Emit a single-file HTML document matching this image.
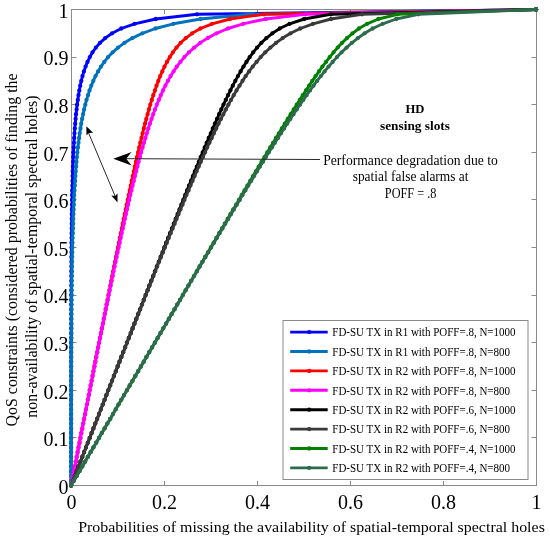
<!DOCTYPE html>
<html><head><meta charset="utf-8"><style>
html,body{margin:0;padding:0;background:#fff;}
svg{display:block;}
text{font-family:"Liberation Serif",serif;fill:#000;}
.tl{font-size:20px;}
.lg{font-size:12px;fill:#000;}
.an{font-size:14px;}
.hd{font-size:12.8px;font-weight:bold;}
.al{font-size:15.8px;}
.xl{font-size:14.8px;}
</style></head><body>
<svg width="550" height="542" viewBox="0 0 550 542">
<rect width="550" height="542" fill="#fff"/>
<rect x="71.5" y="9.5" width="465" height="476" fill="none" stroke="#8a8a8a" stroke-width="1"/>
<path d="M71.5 485V481M71.5 10V14M164.5 485V481M164.5 10V14M257.5 485V481M257.5 10V14M350.5 485V481M350.5 10V14M443.5 485V481M443.5 10V14M536.5 485V481M536.5 10V14M72 485.5H76.5M536 485.5H531.5M72 437.5H76.5M536 437.5H531.5M72 390.5H76.5M536 390.5H531.5M72 342.5H76.5M536 342.5H531.5M72 295.5H76.5M536 295.5H531.5M72 247.5H76.5M536 247.5H531.5M72 199.5H76.5M536 199.5H531.5M72 152.5H76.5M536 152.5H531.5M72 104.5H76.5M536 104.5H531.5M72 57.5H76.5M536 57.5H531.5M72 9.5H76.5M536 9.5H531.5" stroke="#8a8a8a" stroke-width="1" fill="none"/>
<polyline points="71.1,485.5 71.1,480.7 71.1,476 71.1,471.2 71.1,466.5 71.1,461.7 71.1,456.9 71.1,452.2 71.1,447.4 71.1,442.7 71.1,437.9 71.1,433.1 71.1,428.4 71.1,423.6 71.1,418.9 71.1,414.1 71.1,409.3 71.1,404.6 71.1,399.8 71.1,395.1 71.1,390.3 71.1,385.5 71.1,380.8 71.1,376 71.1,371.3 71.1,366.5 71.1,361.7 71.1,357 71.1,352.2 71.1,347.5 71.1,342.7 71.2,337.9 71.2,333.2 71.2,328.4 71.2,323.7 71.2,318.9 71.2,314.1 71.2,309.4 71.2,304.6 71.2,299.9 71.2,295.1 71.3,290.3 71.3,285.6 71.3,280.8 71.3,276.1 71.3,271.3 71.4,266.5 71.4,261.8 71.4,257 71.5,252.3 71.5,247.5 71.5,242.7 71.6,238 71.6,233.2 71.7,228.5 71.7,223.7 71.8,218.9 71.8,214.2 71.9,209.4 72,204.7 72.1,199.9 72.1,195.1 72.2,190.4 72.4,185.6 72.5,180.9 72.6,176.1 72.7,171.3 72.9,166.6 73.1,161.8 73.2,157.1 73.4,152.3 73.7,147.5 73.9,142.8 74.2,138 74.5,133.3 74.8,128.5 75.2,123.7 75.6,119 76,114.2 76.6,109.5 77.1,104.7 77.8,99.9 78.5,95.2 79.3,90.4 80.2,85.7 81.3,80.9 82.5,76.1 83.9,71.4 85.6,66.6 87.5,61.9 89.8,57.1 92.5,52.3 95.9,47.6 100,42.8 105.2,38.1 112.1,33.3 121.3,28.5 134.6,23.8 155.8,19 197,14.3 536.1,9.5" fill="none" stroke="#0000ff" stroke-width="2.9" stroke-linejoin="round"/>
<path d="M71.1 485.5h0M71.1 480.7h0M71.1 476h0M71.1 471.2h0M71.1 466.5h0M71.1 461.7h0M71.1 456.9h0M71.1 452.2h0M71.1 447.4h0M71.1 442.7h0M71.1 437.9h0M71.1 433.1h0M71.1 428.4h0M71.1 423.6h0M71.1 418.9h0M71.1 414.1h0M71.1 409.3h0M71.1 404.6h0M71.1 399.8h0M71.1 395.1h0M71.1 390.3h0M71.1 385.5h0M71.1 380.8h0M71.1 376h0M71.1 371.3h0M71.1 366.5h0M71.1 361.7h0M71.1 357h0M71.1 352.2h0M71.1 347.5h0M71.1 342.7h0M71.2 337.9h0M71.2 333.2h0M71.2 328.4h0M71.2 323.7h0M71.2 318.9h0M71.2 314.1h0M71.2 309.4h0M71.2 304.6h0M71.2 299.9h0M71.2 295.1h0M71.3 290.3h0M71.3 285.6h0M71.3 280.8h0M71.3 276.1h0M71.3 271.3h0M71.4 266.5h0M71.4 261.8h0M71.4 257h0M71.5 252.3h0M71.5 247.5h0M71.5 242.7h0M71.6 238h0M71.6 233.2h0M71.7 228.5h0M71.7 223.7h0M71.8 218.9h0M71.8 214.2h0M71.9 209.4h0M72 204.7h0M72.1 199.9h0M72.1 195.1h0M72.2 190.4h0M72.4 185.6h0M72.5 180.9h0M72.6 176.1h0M72.7 171.3h0M72.9 166.6h0M73.1 161.8h0M73.2 157.1h0M73.4 152.3h0M73.7 147.5h0M73.9 142.8h0M74.2 138h0M74.5 133.3h0M74.8 128.5h0M75.2 123.7h0M75.6 119h0M76 114.2h0M76.6 109.5h0M77.1 104.7h0M77.8 99.9h0M78.5 95.2h0M79.3 90.4h0M80.2 85.7h0M81.3 80.9h0M82.5 76.1h0M83.9 71.4h0M85.6 66.6h0M87.5 61.9h0M89.8 57.1h0M92.5 52.3h0M95.9 47.6h0M100 42.8h0M105.2 38.1h0M112.1 33.3h0M121.3 28.5h0M134.6 23.8h0M155.8 19h0M197 14.3h0M536.1 9.5h0" stroke="#0000ff" stroke-width="4.3" stroke-linecap="round"/>
<polyline points="71.1,485.5 71.1,480.7 71.1,476 71.1,471.2 71.1,466.5 71.1,461.7 71.1,456.9 71.1,452.2 71.1,447.4 71.1,442.7 71.1,437.9 71.1,433.1 71.1,428.4 71.1,423.6 71.1,418.9 71.1,414.1 71.1,409.3 71.1,404.6 71.1,399.8 71.2,395.1 71.2,390.3 71.2,385.5 71.2,380.8 71.2,376 71.2,371.3 71.2,366.5 71.2,361.7 71.2,357 71.3,352.2 71.3,347.5 71.3,342.7 71.3,337.9 71.4,333.2 71.4,328.4 71.4,323.7 71.4,318.9 71.5,314.1 71.5,309.4 71.6,304.6 71.6,299.9 71.7,295.1 71.7,290.3 71.8,285.6 71.8,280.8 71.9,276.1 72,271.3 72,266.5 72.1,261.8 72.2,257 72.3,252.3 72.4,247.5 72.5,242.7 72.6,238 72.8,233.2 72.9,228.5 73.1,223.7 73.2,218.9 73.4,214.2 73.6,209.4 73.8,204.7 74,199.9 74.2,195.1 74.5,190.4 74.8,185.6 75.1,180.9 75.4,176.1 75.7,171.3 76.1,166.6 76.5,161.8 76.9,157.1 77.4,152.3 77.9,147.5 78.5,142.8 79.1,138 79.7,133.3 80.5,128.5 81.2,123.7 82.1,119 83.1,114.2 84.1,109.5 85.3,104.7 86.5,99.9 88,95.2 89.5,90.4 91.3,85.7 93.3,80.9 95.5,76.1 98.1,71.4 101,66.6 104.3,61.9 108.1,57.1 112.7,52.3 118,47.6 124.5,42.8 132.4,38.1 142.4,33.3 155.5,28.5 173.5,23.8 200.5,19 249,14.3 536.1,9.5" fill="none" stroke="#0072bd" stroke-width="2.9" stroke-linejoin="round"/>
<path d="M71.1 485.5h0M71.1 480.7h0M71.1 476h0M71.1 471.2h0M71.1 466.5h0M71.1 461.7h0M71.1 456.9h0M71.1 452.2h0M71.1 447.4h0M71.1 442.7h0M71.1 437.9h0M71.1 433.1h0M71.1 428.4h0M71.1 423.6h0M71.1 418.9h0M71.1 414.1h0M71.1 409.3h0M71.1 404.6h0M71.1 399.8h0M71.2 395.1h0M71.2 390.3h0M71.2 385.5h0M71.2 380.8h0M71.2 376h0M71.2 371.3h0M71.2 366.5h0M71.2 361.7h0M71.2 357h0M71.3 352.2h0M71.3 347.5h0M71.3 342.7h0M71.3 337.9h0M71.4 333.2h0M71.4 328.4h0M71.4 323.7h0M71.4 318.9h0M71.5 314.1h0M71.5 309.4h0M71.6 304.6h0M71.6 299.9h0M71.7 295.1h0M71.7 290.3h0M71.8 285.6h0M71.8 280.8h0M71.9 276.1h0M72 271.3h0M72 266.5h0M72.1 261.8h0M72.2 257h0M72.3 252.3h0M72.4 247.5h0M72.5 242.7h0M72.6 238h0M72.8 233.2h0M72.9 228.5h0M73.1 223.7h0M73.2 218.9h0M73.4 214.2h0M73.6 209.4h0M73.8 204.7h0M74 199.9h0M74.2 195.1h0M74.5 190.4h0M74.8 185.6h0M75.1 180.9h0M75.4 176.1h0M75.7 171.3h0M76.1 166.6h0M76.5 161.8h0M76.9 157.1h0M77.4 152.3h0M77.9 147.5h0M78.5 142.8h0M79.1 138h0M79.7 133.3h0M80.5 128.5h0M81.2 123.7h0M82.1 119h0M83.1 114.2h0M84.1 109.5h0M85.3 104.7h0M86.5 99.9h0M88 95.2h0M89.5 90.4h0M91.3 85.7h0M93.3 80.9h0M95.5 76.1h0M98.1 71.4h0M101 66.6h0M104.3 61.9h0M108.1 57.1h0M112.7 52.3h0M118 47.6h0M124.5 42.8h0M132.4 38.1h0M142.4 33.3h0M155.5 28.5h0M173.5 23.8h0M200.5 19h0M249 14.3h0M536.1 9.5h0" stroke="#0072bd" stroke-width="4.3" stroke-linecap="round"/>
<polyline points="71.1,485.5 72,480.7 73,476 73.9,471.2 74.8,466.5 75.8,461.7 76.7,456.9 77.6,452.2 78.5,447.4 79.5,442.7 80.4,437.9 81.3,433.1 82.3,428.4 83.2,423.6 84.1,418.9 85.1,414.1 86,409.3 86.9,404.6 87.8,399.8 88.8,395.1 89.7,390.3 90.6,385.5 91.6,380.8 92.5,376 93.4,371.3 94.4,366.5 95.3,361.7 96.2,357 97.2,352.2 98.1,347.5 99,342.7 100,337.9 100.9,333.2 101.8,328.4 102.8,323.7 103.7,318.9 104.7,314.1 105.6,309.4 106.5,304.6 107.5,299.9 108.4,295.1 109.4,290.3 110.3,285.6 111.2,280.8 112.2,276.1 113.1,271.3 114.1,266.5 115,261.8 116,257 117,252.3 117.9,247.5 118.9,242.7 119.8,238 120.8,233.2 121.8,228.5 122.7,223.7 123.7,218.9 124.7,214.2 125.7,209.4 126.7,204.7 127.7,199.9 128.7,195.1 129.7,190.4 130.7,185.6 131.7,180.9 132.7,176.1 133.8,171.3 134.8,166.6 135.9,161.8 137,157.1 138.1,152.3 139.2,147.5 140.3,142.8 141.5,138 142.6,133.3 143.8,128.5 145,123.7 146.3,119 147.6,114.2 148.9,109.5 150.3,104.7 151.8,99.9 153.3,95.2 154.9,90.4 156.5,85.7 158.3,80.9 160.2,76.1 162.3,71.4 164.5,66.6 167,61.9 169.8,57.1 172.9,52.3 176.5,47.6 180.7,42.8 185.8,38.1 192.2,33.3 200.5,28.5 212.1,23.8 230,19 263.9,14.3 536.1,9.5" fill="none" stroke="#ff0000" stroke-width="2.9" stroke-linejoin="round"/>
<path d="M71.1 485.5h0M72 480.7h0M73 476h0M73.9 471.2h0M74.8 466.5h0M75.8 461.7h0M76.7 456.9h0M77.6 452.2h0M78.5 447.4h0M79.5 442.7h0M80.4 437.9h0M81.3 433.1h0M82.3 428.4h0M83.2 423.6h0M84.1 418.9h0M85.1 414.1h0M86 409.3h0M86.9 404.6h0M87.8 399.8h0M88.8 395.1h0M89.7 390.3h0M90.6 385.5h0M91.6 380.8h0M92.5 376h0M93.4 371.3h0M94.4 366.5h0M95.3 361.7h0M96.2 357h0M97.2 352.2h0M98.1 347.5h0M99 342.7h0M100 337.9h0M100.9 333.2h0M101.8 328.4h0M102.8 323.7h0M103.7 318.9h0M104.7 314.1h0M105.6 309.4h0M106.5 304.6h0M107.5 299.9h0M108.4 295.1h0M109.4 290.3h0M110.3 285.6h0M111.2 280.8h0M112.2 276.1h0M113.1 271.3h0M114.1 266.5h0M115 261.8h0M116 257h0M117 252.3h0M117.9 247.5h0M118.9 242.7h0M119.8 238h0M120.8 233.2h0M121.8 228.5h0M122.7 223.7h0M123.7 218.9h0M124.7 214.2h0M125.7 209.4h0M126.7 204.7h0M127.7 199.9h0M128.7 195.1h0M129.7 190.4h0M130.7 185.6h0M131.7 180.9h0M132.7 176.1h0M133.8 171.3h0M134.8 166.6h0M135.9 161.8h0M137 157.1h0M138.1 152.3h0M139.2 147.5h0M140.3 142.8h0M141.5 138h0M142.6 133.3h0M143.8 128.5h0M145 123.7h0M146.3 119h0M147.6 114.2h0M148.9 109.5h0M150.3 104.7h0M151.8 99.9h0M153.3 95.2h0M154.9 90.4h0M156.5 85.7h0M158.3 80.9h0M160.2 76.1h0M162.3 71.4h0M164.5 66.6h0M167 61.9h0M169.8 57.1h0M172.9 52.3h0M176.5 47.6h0M180.7 42.8h0M185.8 38.1h0M192.2 33.3h0M200.5 28.5h0M212.1 23.8h0M230 19h0M263.9 14.3h0M536.1 9.5h0" stroke="#ff0000" stroke-width="4.3" stroke-linecap="round"/>
<polyline points="71.1,485.5 72,480.7 73,476 73.9,471.2 74.8,466.5 75.8,461.7 76.7,456.9 77.6,452.2 78.5,447.4 79.5,442.7 80.4,437.9 81.3,433.1 82.3,428.4 83.2,423.6 84.1,418.9 85.1,414.1 86,409.3 86.9,404.6 87.9,399.8 88.8,395.1 89.7,390.3 90.7,385.5 91.6,380.8 92.6,376 93.5,371.3 94.4,366.5 95.4,361.7 96.3,357 97.3,352.2 98.2,347.5 99.2,342.7 100.1,337.9 101.1,333.2 102,328.4 103,323.7 103.9,318.9 104.9,314.1 105.8,309.4 106.8,304.6 107.8,299.9 108.7,295.1 109.7,290.3 110.7,285.6 111.7,280.8 112.7,276.1 113.6,271.3 114.6,266.5 115.6,261.8 116.6,257 117.6,252.3 118.7,247.5 119.7,242.7 120.7,238 121.7,233.2 122.8,228.5 123.8,223.7 124.9,218.9 125.9,214.2 127,209.4 128.1,204.7 129.2,199.9 130.3,195.1 131.5,190.4 132.6,185.6 133.8,180.9 135,176.1 136.2,171.3 137.4,166.6 138.6,161.8 139.9,157.1 141.2,152.3 142.6,147.5 143.9,142.8 145.4,138 146.8,133.3 148.3,128.5 149.9,123.7 151.5,119 153.2,114.2 155,109.5 156.8,104.7 158.8,99.9 160.8,95.2 163,90.4 165.4,85.7 167.9,80.9 170.6,76.1 173.6,71.4 176.8,66.6 180.4,61.9 184.4,57.1 189,52.3 194.2,47.6 200.3,42.8 207.6,38.1 216.5,33.3 227.9,28.5 243.2,23.8 265.8,19 305.5,14.3 536.1,9.5" fill="none" stroke="#ff00ff" stroke-width="2.9" stroke-linejoin="round"/>
<path d="M71.1 485.5h0M72 480.7h0M73 476h0M73.9 471.2h0M74.8 466.5h0M75.8 461.7h0M76.7 456.9h0M77.6 452.2h0M78.5 447.4h0M79.5 442.7h0M80.4 437.9h0M81.3 433.1h0M82.3 428.4h0M83.2 423.6h0M84.1 418.9h0M85.1 414.1h0M86 409.3h0M86.9 404.6h0M87.9 399.8h0M88.8 395.1h0M89.7 390.3h0M90.7 385.5h0M91.6 380.8h0M92.6 376h0M93.5 371.3h0M94.4 366.5h0M95.4 361.7h0M96.3 357h0M97.3 352.2h0M98.2 347.5h0M99.2 342.7h0M100.1 337.9h0M101.1 333.2h0M102 328.4h0M103 323.7h0M103.9 318.9h0M104.9 314.1h0M105.8 309.4h0M106.8 304.6h0M107.8 299.9h0M108.7 295.1h0M109.7 290.3h0M110.7 285.6h0M111.7 280.8h0M112.7 276.1h0M113.6 271.3h0M114.6 266.5h0M115.6 261.8h0M116.6 257h0M117.6 252.3h0M118.7 247.5h0M119.7 242.7h0M120.7 238h0M121.7 233.2h0M122.8 228.5h0M123.8 223.7h0M124.9 218.9h0M125.9 214.2h0M127 209.4h0M128.1 204.7h0M129.2 199.9h0M130.3 195.1h0M131.5 190.4h0M132.6 185.6h0M133.8 180.9h0M135 176.1h0M136.2 171.3h0M137.4 166.6h0M138.6 161.8h0M139.9 157.1h0M141.2 152.3h0M142.6 147.5h0M143.9 142.8h0M145.4 138h0M146.8 133.3h0M148.3 128.5h0M149.9 123.7h0M151.5 119h0M153.2 114.2h0M155 109.5h0M156.8 104.7h0M158.8 99.9h0M160.8 95.2h0M163 90.4h0M165.4 85.7h0M167.9 80.9h0M170.6 76.1h0M173.6 71.4h0M176.8 66.6h0M180.4 61.9h0M184.4 57.1h0M189 52.3h0M194.2 47.6h0M200.3 42.8h0M207.6 38.1h0M216.5 33.3h0M227.9 28.5h0M243.2 23.8h0M265.8 19h0M305.5 14.3h0M536.1 9.5h0" stroke="#ff00ff" stroke-width="4.3" stroke-linecap="round"/>
<polyline points="71.1,485.5 73,480.7 74.8,476 76.7,471.2 78.5,466.5 80.4,461.7 82.3,456.9 84.1,452.2 86,447.4 87.8,442.7 89.7,437.9 91.6,433.1 93.4,428.4 95.3,423.6 97.1,418.9 99,414.1 100.9,409.3 102.7,404.6 104.6,399.8 106.4,395.1 108.3,390.3 110.2,385.5 112,380.8 113.9,376 115.8,371.3 117.6,366.5 119.5,361.7 121.3,357 123.2,352.2 125.1,347.5 126.9,342.7 128.8,337.9 130.7,333.2 132.5,328.4 134.4,323.7 136.3,318.9 138.1,314.1 140,309.4 141.9,304.6 143.7,299.9 145.6,295.1 147.5,290.3 149.3,285.6 151.2,280.8 153.1,276.1 154.9,271.3 156.8,266.5 158.7,261.8 160.6,257 162.5,252.3 164.3,247.5 166.2,242.7 168.1,238 170,233.2 171.9,228.5 173.8,223.7 175.7,218.9 177.6,214.2 179.5,209.4 181.4,204.7 183.3,199.9 185.2,195.1 187.1,190.4 189,185.6 191,180.9 192.9,176.1 194.8,171.3 196.8,166.6 198.8,161.8 200.7,157.1 202.7,152.3 204.7,147.5 206.7,142.8 208.7,138 210.8,133.3 212.8,128.5 214.9,123.7 217,119 219.1,114.2 221.3,109.5 223.5,104.7 225.8,99.9 228.1,95.2 230.4,90.4 232.8,85.7 235.3,80.9 237.9,76.1 240.6,71.4 243.5,66.6 246.5,61.9 249.7,57.1 253.2,52.3 257.1,47.6 261.4,42.8 266.4,38.1 272.4,33.3 279.8,28.5 289.6,23.8 304.2,19 330.8,14.3 536.1,9.5" fill="none" stroke="#000000" stroke-width="2.9" stroke-linejoin="round"/>
<path d="M71.1 485.5h0M73 480.7h0M74.8 476h0M76.7 471.2h0M78.5 466.5h0M80.4 461.7h0M82.3 456.9h0M84.1 452.2h0M86 447.4h0M87.8 442.7h0M89.7 437.9h0M91.6 433.1h0M93.4 428.4h0M95.3 423.6h0M97.1 418.9h0M99 414.1h0M100.9 409.3h0M102.7 404.6h0M104.6 399.8h0M106.4 395.1h0M108.3 390.3h0M110.2 385.5h0M112 380.8h0M113.9 376h0M115.8 371.3h0M117.6 366.5h0M119.5 361.7h0M121.3 357h0M123.2 352.2h0M125.1 347.5h0M126.9 342.7h0M128.8 337.9h0M130.7 333.2h0M132.5 328.4h0M134.4 323.7h0M136.3 318.9h0M138.1 314.1h0M140 309.4h0M141.9 304.6h0M143.7 299.9h0M145.6 295.1h0M147.5 290.3h0M149.3 285.6h0M151.2 280.8h0M153.1 276.1h0M154.9 271.3h0M156.8 266.5h0M158.7 261.8h0M160.6 257h0M162.5 252.3h0M164.3 247.5h0M166.2 242.7h0M168.1 238h0M170 233.2h0M171.9 228.5h0M173.8 223.7h0M175.7 218.9h0M177.6 214.2h0M179.5 209.4h0M181.4 204.7h0M183.3 199.9h0M185.2 195.1h0M187.1 190.4h0M189 185.6h0M191 180.9h0M192.9 176.1h0M194.8 171.3h0M196.8 166.6h0M198.8 161.8h0M200.7 157.1h0M202.7 152.3h0M204.7 147.5h0M206.7 142.8h0M208.7 138h0M210.8 133.3h0M212.8 128.5h0M214.9 123.7h0M217 119h0M219.1 114.2h0M221.3 109.5h0M223.5 104.7h0M225.8 99.9h0M228.1 95.2h0M230.4 90.4h0M232.8 85.7h0M235.3 80.9h0M237.9 76.1h0M240.6 71.4h0M243.5 66.6h0M246.5 61.9h0M249.7 57.1h0M253.2 52.3h0M257.1 47.6h0M261.4 42.8h0M266.4 38.1h0M272.4 33.3h0M279.8 28.5h0M289.6 23.8h0M304.2 19h0M330.8 14.3h0M536.1 9.5h0" stroke="#000000" stroke-width="4.3" stroke-linecap="round"/>
<polyline points="71.1,485.5 73,480.7 74.8,476 76.7,471.2 78.5,466.5 80.4,461.7 82.3,456.9 84.1,452.2 86,447.4 87.8,442.7 89.7,437.9 91.6,433.1 93.4,428.4 95.3,423.6 97.2,418.9 99,414.1 100.9,409.3 102.7,404.6 104.6,399.8 106.5,395.1 108.3,390.3 110.2,385.5 112.1,380.8 113.9,376 115.8,371.3 117.7,366.5 119.5,361.7 121.4,357 123.3,352.2 125.2,347.5 127,342.7 128.9,337.9 130.8,333.2 132.7,328.4 134.5,323.7 136.4,318.9 138.3,314.1 140.2,309.4 142.1,304.6 143.9,299.9 145.8,295.1 147.7,290.3 149.6,285.6 151.5,280.8 153.4,276.1 155.3,271.3 157.2,266.5 159.1,261.8 161,257 163,252.3 164.9,247.5 166.8,242.7 168.7,238 170.7,233.2 172.6,228.5 174.6,223.7 176.5,218.9 178.5,214.2 180.5,209.4 182.5,204.7 184.4,199.9 186.4,195.1 188.5,190.4 190.5,185.6 192.5,180.9 194.6,176.1 196.6,171.3 198.7,166.6 200.8,161.8 202.9,157.1 205.1,152.3 207.2,147.5 209.4,142.8 211.7,138 213.9,133.3 216.2,128.5 218.5,123.7 220.9,119 223.4,114.2 225.8,109.5 228.4,104.7 231,99.9 233.7,95.2 236.5,90.4 239.5,85.7 242.5,80.9 245.7,76.1 249.1,71.4 252.7,66.6 256.6,61.9 260.7,57.1 265.3,52.3 270.4,47.6 276.1,42.8 282.7,38.1 290.6,33.3 300.3,28.5 313,23.8 331,19 362,14.3 536.1,9.5" fill="none" stroke="#3a3a3a" stroke-width="2.9" stroke-linejoin="round"/>
<path d="M71.1 485.5h0M73 480.7h0M74.8 476h0M76.7 471.2h0M78.5 466.5h0M80.4 461.7h0M82.3 456.9h0M84.1 452.2h0M86 447.4h0M87.8 442.7h0M89.7 437.9h0M91.6 433.1h0M93.4 428.4h0M95.3 423.6h0M97.2 418.9h0M99 414.1h0M100.9 409.3h0M102.7 404.6h0M104.6 399.8h0M106.5 395.1h0M108.3 390.3h0M110.2 385.5h0M112.1 380.8h0M113.9 376h0M115.8 371.3h0M117.7 366.5h0M119.5 361.7h0M121.4 357h0M123.3 352.2h0M125.2 347.5h0M127 342.7h0M128.9 337.9h0M130.8 333.2h0M132.7 328.4h0M134.5 323.7h0M136.4 318.9h0M138.3 314.1h0M140.2 309.4h0M142.1 304.6h0M143.9 299.9h0M145.8 295.1h0M147.7 290.3h0M149.6 285.6h0M151.5 280.8h0M153.4 276.1h0M155.3 271.3h0M157.2 266.5h0M159.1 261.8h0M161 257h0M163 252.3h0M164.9 247.5h0M166.8 242.7h0M168.7 238h0M170.7 233.2h0M172.6 228.5h0M174.6 223.7h0M176.5 218.9h0M178.5 214.2h0M180.5 209.4h0M182.5 204.7h0M184.4 199.9h0M186.4 195.1h0M188.5 190.4h0M190.5 185.6h0M192.5 180.9h0M194.6 176.1h0M196.6 171.3h0M198.7 166.6h0M200.8 161.8h0M202.9 157.1h0M205.1 152.3h0M207.2 147.5h0M209.4 142.8h0M211.7 138h0M213.9 133.3h0M216.2 128.5h0M218.5 123.7h0M220.9 119h0M223.4 114.2h0M225.8 109.5h0M228.4 104.7h0M231 99.9h0M233.7 95.2h0M236.5 90.4h0M239.5 85.7h0M242.5 80.9h0M245.7 76.1h0M249.1 71.4h0M252.7 66.6h0M256.6 61.9h0M260.7 57.1h0M265.3 52.3h0M270.4 47.6h0M276.1 42.8h0M282.7 38.1h0M290.6 33.3h0M300.3 28.5h0M313 23.8h0M331 19h0M362 14.3h0M536.1 9.5h0" stroke="#3a3a3a" stroke-width="4.3" stroke-linecap="round"/>
<polyline points="71.1,485.5 73.9,480.7 76.7,476 79.5,471.2 82.3,466.5 85.1,461.7 87.8,456.9 90.6,452.2 93.4,447.4 96.2,442.7 99,437.9 101.8,433.1 104.6,428.4 107.4,423.6 110.2,418.9 113,414.1 115.7,409.3 118.5,404.6 121.3,399.8 124.1,395.1 126.9,390.3 129.7,385.5 132.5,380.8 135.3,376 138.1,371.3 140.9,366.5 143.7,361.7 146.4,357 149.2,352.2 152,347.5 154.8,342.7 157.6,337.9 160.4,333.2 163.2,328.4 166,323.7 168.8,318.9 171.6,314.1 174.4,309.4 177.2,304.6 180,299.9 182.8,295.1 185.6,290.3 188.4,285.6 191.1,280.8 193.9,276.1 196.7,271.3 199.5,266.5 202.3,261.8 205.1,257 208,252.3 210.8,247.5 213.6,242.7 216.4,238 219.2,233.2 222,228.5 224.8,223.7 227.6,218.9 230.4,214.2 233.2,209.4 236.1,204.7 238.9,199.9 241.7,195.1 244.5,190.4 247.4,185.6 250.2,180.9 253,176.1 255.9,171.3 258.7,166.6 261.6,161.8 264.5,157.1 267.3,152.3 270.2,147.5 273.1,142.8 276,138 278.9,133.3 281.8,128.5 284.8,123.7 287.7,119 290.7,114.2 293.7,109.5 296.7,104.7 299.8,99.9 302.8,95.2 306,90.4 309.1,85.7 312.3,80.9 315.6,76.1 319,71.4 322.4,66.6 326,61.9 329.7,57.1 333.6,52.3 337.7,47.6 342.1,42.8 347,38.1 352.5,33.3 359,28.5 367.1,23.8 378.4,19 397.7,14.3 536.1,9.5" fill="none" stroke="#008000" stroke-width="2.9" stroke-linejoin="round"/>
<path d="M71.1 485.5h0M73.9 480.7h0M76.7 476h0M79.5 471.2h0M82.3 466.5h0M85.1 461.7h0M87.8 456.9h0M90.6 452.2h0M93.4 447.4h0M96.2 442.7h0M99 437.9h0M101.8 433.1h0M104.6 428.4h0M107.4 423.6h0M110.2 418.9h0M113 414.1h0M115.7 409.3h0M118.5 404.6h0M121.3 399.8h0M124.1 395.1h0M126.9 390.3h0M129.7 385.5h0M132.5 380.8h0M135.3 376h0M138.1 371.3h0M140.9 366.5h0M143.7 361.7h0M146.4 357h0M149.2 352.2h0M152 347.5h0M154.8 342.7h0M157.6 337.9h0M160.4 333.2h0M163.2 328.4h0M166 323.7h0M168.8 318.9h0M171.6 314.1h0M174.4 309.4h0M177.2 304.6h0M180 299.9h0M182.8 295.1h0M185.6 290.3h0M188.4 285.6h0M191.1 280.8h0M193.9 276.1h0M196.7 271.3h0M199.5 266.5h0M202.3 261.8h0M205.1 257h0M208 252.3h0M210.8 247.5h0M213.6 242.7h0M216.4 238h0M219.2 233.2h0M222 228.5h0M224.8 223.7h0M227.6 218.9h0M230.4 214.2h0M233.2 209.4h0M236.1 204.7h0M238.9 199.9h0M241.7 195.1h0M244.5 190.4h0M247.4 185.6h0M250.2 180.9h0M253 176.1h0M255.9 171.3h0M258.7 166.6h0M261.6 161.8h0M264.5 157.1h0M267.3 152.3h0M270.2 147.5h0M273.1 142.8h0M276 138h0M278.9 133.3h0M281.8 128.5h0M284.8 123.7h0M287.7 119h0M290.7 114.2h0M293.7 109.5h0M296.7 104.7h0M299.8 99.9h0M302.8 95.2h0M306 90.4h0M309.1 85.7h0M312.3 80.9h0M315.6 76.1h0M319 71.4h0M322.4 66.6h0M326 61.9h0M329.7 57.1h0M333.6 52.3h0M337.7 47.6h0M342.1 42.8h0M347 38.1h0M352.5 33.3h0M359 28.5h0M367.1 23.8h0M378.4 19h0M397.7 14.3h0M536.1 9.5h0" stroke="#008000" stroke-width="4.3" stroke-linecap="round"/>
<polyline points="71.1,485.5 73.9,480.7 76.7,476 79.5,471.2 82.3,466.5 85.1,461.7 87.8,456.9 90.6,452.2 93.4,447.4 96.2,442.7 99,437.9 101.8,433.1 104.6,428.4 107.4,423.6 110.2,418.9 113,414.1 115.8,409.3 118.5,404.6 121.3,399.8 124.1,395.1 126.9,390.3 129.7,385.5 132.5,380.8 135.3,376 138.1,371.3 140.9,366.5 143.7,361.7 146.5,357 149.3,352.2 152.1,347.5 154.9,342.7 157.7,337.9 160.5,333.2 163.3,328.4 166.1,323.7 168.9,318.9 171.7,314.1 174.5,309.4 177.3,304.6 180.1,299.9 182.9,295.1 185.7,290.3 188.5,285.6 191.4,280.8 194.2,276.1 197,271.3 199.8,266.5 202.6,261.8 205.5,257 208.3,252.3 211.1,247.5 214,242.7 216.8,238 219.6,233.2 222.5,228.5 225.3,223.7 228.2,218.9 231,214.2 233.9,209.4 236.8,204.7 239.7,199.9 242.5,195.1 245.4,190.4 248.3,185.6 251.2,180.9 254.2,176.1 257.1,171.3 260,166.6 263,161.8 265.9,157.1 268.9,152.3 271.9,147.5 274.9,142.8 278,138 281,133.3 284.1,128.5 287.2,123.7 290.3,119 293.5,114.2 296.7,109.5 300,104.7 303.3,99.9 306.6,95.2 310,90.4 313.5,85.7 317.1,80.9 320.8,76.1 324.6,71.4 328.6,66.6 332.7,61.9 337,57.1 341.6,52.3 346.6,47.6 351.9,42.8 357.9,38.1 364.7,33.3 372.7,28.5 382.7,23.8 396.3,19 418.5,14.3 536.1,9.5" fill="none" stroke="#2d6b4d" stroke-width="2.9" stroke-linejoin="round"/>
<path d="M71.1 485.5h0M73.9 480.7h0M76.7 476h0M79.5 471.2h0M82.3 466.5h0M85.1 461.7h0M87.8 456.9h0M90.6 452.2h0M93.4 447.4h0M96.2 442.7h0M99 437.9h0M101.8 433.1h0M104.6 428.4h0M107.4 423.6h0M110.2 418.9h0M113 414.1h0M115.8 409.3h0M118.5 404.6h0M121.3 399.8h0M124.1 395.1h0M126.9 390.3h0M129.7 385.5h0M132.5 380.8h0M135.3 376h0M138.1 371.3h0M140.9 366.5h0M143.7 361.7h0M146.5 357h0M149.3 352.2h0M152.1 347.5h0M154.9 342.7h0M157.7 337.9h0M160.5 333.2h0M163.3 328.4h0M166.1 323.7h0M168.9 318.9h0M171.7 314.1h0M174.5 309.4h0M177.3 304.6h0M180.1 299.9h0M182.9 295.1h0M185.7 290.3h0M188.5 285.6h0M191.4 280.8h0M194.2 276.1h0M197 271.3h0M199.8 266.5h0M202.6 261.8h0M205.5 257h0M208.3 252.3h0M211.1 247.5h0M214 242.7h0M216.8 238h0M219.6 233.2h0M222.5 228.5h0M225.3 223.7h0M228.2 218.9h0M231 214.2h0M233.9 209.4h0M236.8 204.7h0M239.7 199.9h0M242.5 195.1h0M245.4 190.4h0M248.3 185.6h0M251.2 180.9h0M254.2 176.1h0M257.1 171.3h0M260 166.6h0M263 161.8h0M265.9 157.1h0M268.9 152.3h0M271.9 147.5h0M274.9 142.8h0M278 138h0M281 133.3h0M284.1 128.5h0M287.2 123.7h0M290.3 119h0M293.5 114.2h0M296.7 109.5h0M300 104.7h0M303.3 99.9h0M306.6 95.2h0M310 90.4h0M313.5 85.7h0M317.1 80.9h0M320.8 76.1h0M324.6 71.4h0M328.6 66.6h0M332.7 61.9h0M337 57.1h0M341.6 52.3h0M346.6 47.6h0M351.9 42.8h0M357.9 38.1h0M364.7 33.3h0M372.7 28.5h0M382.7 23.8h0M396.3 19h0M418.5 14.3h0M536.1 9.5h0" stroke="#2d6b4d" stroke-width="4.3" stroke-linecap="round"/>
<g class="tl">
<text x="71.5" y="508.7" text-anchor="middle">0</text>
<text x="164.5" y="508.7" text-anchor="middle">0.2</text>
<text x="257.5" y="508.7" text-anchor="middle">0.4</text>
<text x="350.5" y="508.7" text-anchor="middle">0.6</text>
<text x="443.5" y="508.7" text-anchor="middle">0.8</text>
<text x="536.5" y="508.7" text-anchor="middle">1</text>
<text x="68.6" y="493.8" text-anchor="end">0</text>
<text x="68.6" y="446.2" text-anchor="end">0.1</text>
<text x="68.6" y="398.6" text-anchor="end">0.2</text>
<text x="68.6" y="351.0" text-anchor="end">0.3</text>
<text x="68.6" y="303.4" text-anchor="end">0.4</text>
<text x="68.6" y="255.8" text-anchor="end">0.5</text>
<text x="68.6" y="208.2" text-anchor="end">0.6</text>
<text x="68.6" y="160.6" text-anchor="end">0.7</text>
<text x="68.6" y="113.0" text-anchor="end">0.8</text>
<text x="68.6" y="65.4" text-anchor="end">0.9</text>
<text x="68.6" y="17.8" text-anchor="end">1</text>
</g>
<g class="lg">
<rect x="283" y="320.5" width="245" height="159" fill="#fff" stroke="#8a8a8a" stroke-width="1"/>
<path d="M290.2 332.1H327.7" stroke="#0000ff" stroke-width="2.9"/>
<path d="M309.2 332.1h0" stroke="#0000ff" stroke-width="4.3" stroke-linecap="round"/>
<text x="332.3" y="336.3" textLength="183.2" lengthAdjust="spacingAndGlyphs">FD-SU TX in R1 with POFF=.8, N=1000</text>
<path d="M290.2 351.5H327.7" stroke="#0072bd" stroke-width="2.9"/>
<path d="M309.2 351.5h0" stroke="#0072bd" stroke-width="4.3" stroke-linecap="round"/>
<text x="332.3" y="355.7" textLength="177.7" lengthAdjust="spacingAndGlyphs">FD-SU TX in R1 with POFF=.8, N=800</text>
<path d="M290.2 370.9H327.7" stroke="#ff0000" stroke-width="2.9"/>
<path d="M309.2 370.9h0" stroke="#ff0000" stroke-width="4.3" stroke-linecap="round"/>
<text x="332.3" y="375.1" textLength="183.2" lengthAdjust="spacingAndGlyphs">FD-SU TX in R2 with POFF=.8, N=1000</text>
<path d="M290.2 390.3H327.7" stroke="#ff00ff" stroke-width="2.9"/>
<path d="M309.2 390.3h0" stroke="#ff00ff" stroke-width="4.3" stroke-linecap="round"/>
<text x="332.3" y="394.5" textLength="177.7" lengthAdjust="spacingAndGlyphs">FD-SU TX in R2 with POFF=.8, N=800</text>
<path d="M290.2 409.7H327.7" stroke="#000000" stroke-width="2.9"/>
<path d="M309.2 409.7h0" stroke="#000000" stroke-width="4.3" stroke-linecap="round"/>
<text x="332.3" y="413.9" textLength="183.2" lengthAdjust="spacingAndGlyphs">FD-SU TX in R2 with POFF=.6, N=1000</text>
<path d="M290.2 429.1H327.7" stroke="#3a3a3a" stroke-width="2.9"/>
<path d="M309.2 429.1h0" stroke="#3a3a3a" stroke-width="4.3" stroke-linecap="round"/>
<text x="332.3" y="433.3" textLength="177.7" lengthAdjust="spacingAndGlyphs">FD-SU TX in R2 with POFF=.6, N=800</text>
<path d="M290.2 448.5H327.7" stroke="#008000" stroke-width="2.9"/>
<path d="M309.2 448.5h0" stroke="#008000" stroke-width="4.3" stroke-linecap="round"/>
<text x="332.3" y="452.7" textLength="183.2" lengthAdjust="spacingAndGlyphs">FD-SU TX in R2 with POFF=.4, N=1000</text>
<path d="M290.2 467.9H327.7" stroke="#2d6b4d" stroke-width="2.9"/>
<path d="M309.2 467.9h0" stroke="#2d6b4d" stroke-width="4.3" stroke-linecap="round"/>
<text x="332.3" y="472.1" textLength="177.7" lengthAdjust="spacingAndGlyphs">FD-SU TX in R2 with POFF=.4, N=800</text>
</g>
<g class="hd" text-anchor="middle">
<text x="415" y="113.2" textLength="19" lengthAdjust="spacingAndGlyphs">HD</text>
<text x="415" y="129.9" textLength="70" lengthAdjust="spacingAndGlyphs">sensing slots</text>
</g>
<g class="an" text-anchor="middle">
<text x="410.5" y="164.6" textLength="174.7" lengthAdjust="spacingAndGlyphs">Performance degradation due to</text>
<text x="410.6" y="181" textLength="115.8" lengthAdjust="spacingAndGlyphs">spatial false alarms at</text>
<text x="410.6" y="197.5" textLength="51.5" lengthAdjust="spacingAndGlyphs">POFF = .8</text>
</g>
<g stroke="#2a2a2a" stroke-width="1" fill="none">
<path d="M126 158.7L320 159.5"/>
<path d="M88.6 133L115.1 196.1"/>
</g>
<g fill="#000">
<path d="M113.3 158.8L131.6 152L126.2 158.8L131.6 165.6Z"/>
<path d="M86.3 126.3L93.1 132.8L88.6 133L86.5 135.5Z"/>
<path d="M117.5 202.6L111.3 195.5L115.1 196.1L117.5 193.5Z"/>
</g>
<text class="xl" x="311.5" y="531.9" text-anchor="middle" textLength="466.7" lengthAdjust="spacingAndGlyphs">Probabilities of missing the availability of spatial-temporal spectral holes</text>
<g class="al">
<text transform="translate(16.8,249.9) rotate(-90)" text-anchor="middle" textLength="353" lengthAdjust="spacingAndGlyphs">QoS constraints (considered probabilities of finding the</text>
<text transform="translate(36.6,256.6) rotate(-90)" text-anchor="middle" textLength="322.4" lengthAdjust="spacingAndGlyphs">non-availability of spatial-temporal spectral holes)</text>
</g>
</svg>
</body></html>
